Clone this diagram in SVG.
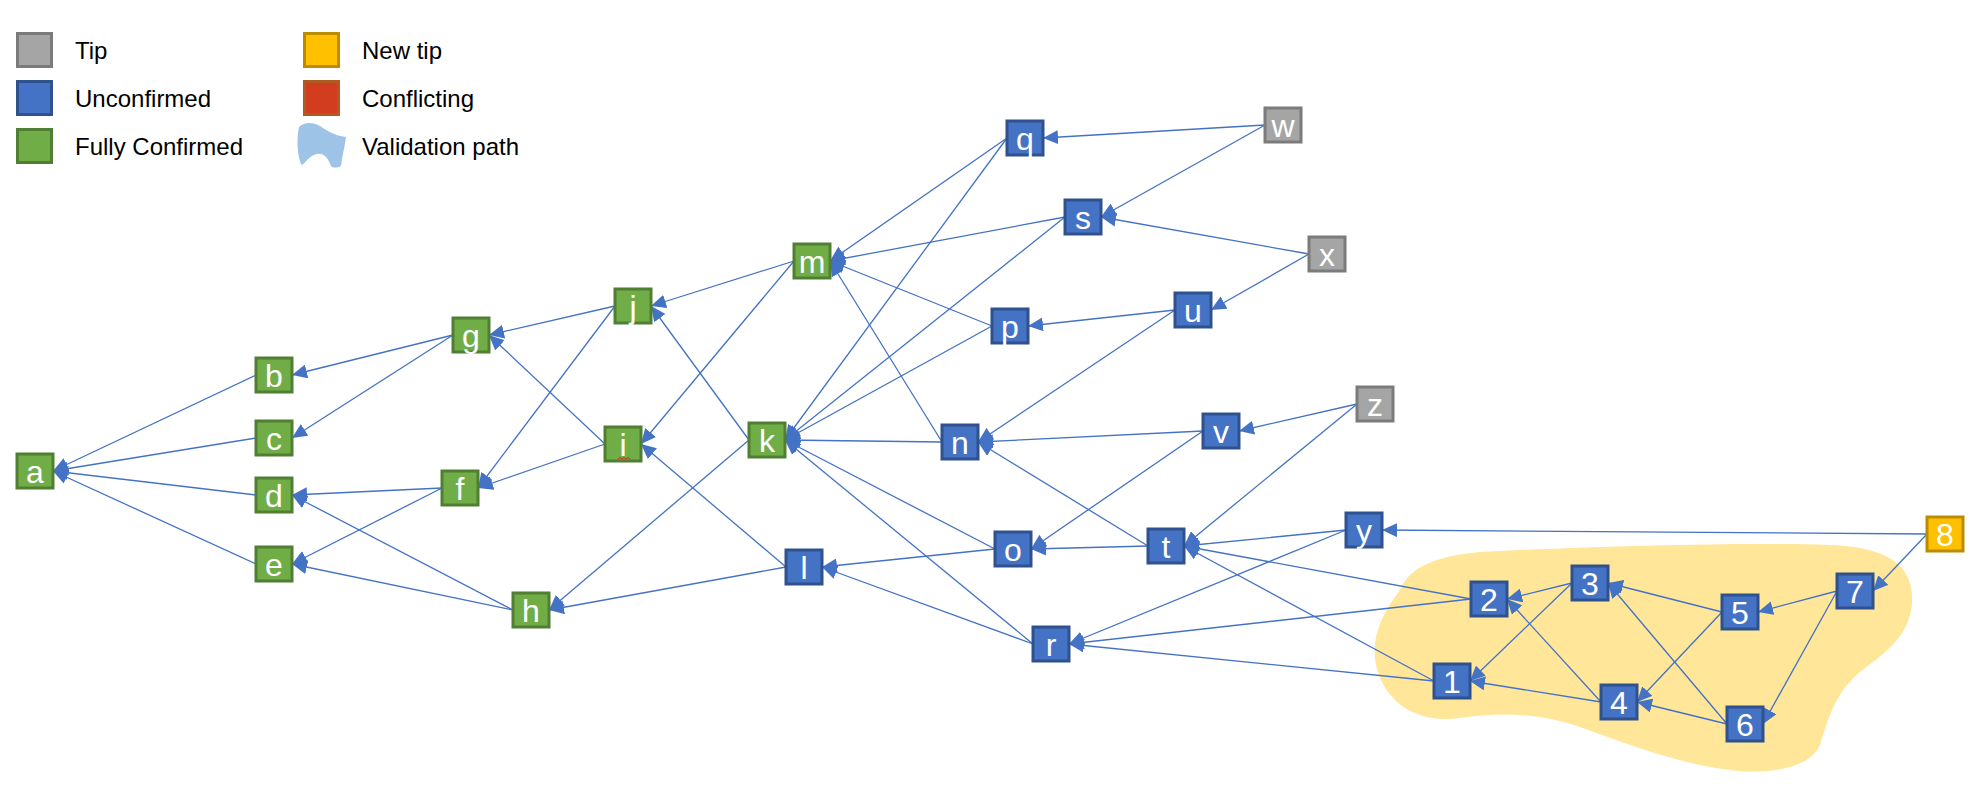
<svg xmlns="http://www.w3.org/2000/svg" width="1981" height="787" viewBox="0 0 1981 787">
<style>
.bx{stroke-width:3}
.tip{fill:#A5A5A5;stroke:#7B7B7B}
.unc{fill:#4472C4;stroke:#2F528F}
.ok{fill:#70AD47;stroke:#507E32}
.new{fill:#FFC000;stroke:#BC8C00}
.bad{fill:#D33D1F;stroke:#AE5A21}
.lbl{font-family:"Liberation Sans",Arial,sans-serif;font-size:32px;fill:#fff;text-anchor:middle}
.leg{font-family:"Liberation Sans",Arial,sans-serif;font-size:24px;fill:#000}
#connectors line{stroke:#4472C4;stroke-width:1.3;marker-end:url(#ah)}
</style>
<defs>
<marker id="ah" viewBox="0 0 15 14" refX="15" refY="7" markerWidth="15" markerHeight="14" orient="auto" markerUnits="userSpaceOnUse">
<path d="M0,0 L15,7 L0,14 z" fill="#4472C4"/>
</marker>
</defs>
<rect width="1981" height="787" fill="#fff"/>

<g id="legend">
<rect class="bx tip" x="17.5" y="33.5" width="34" height="33"/>
<text class="leg" x="75" y="59">Tip</text>
<rect class="bx unc" x="17.5" y="81.5" width="34" height="33"/>
<text class="leg" x="75" y="107">Unconfirmed</text>
<rect class="bx ok" x="17.5" y="129.5" width="34" height="33"/>
<text class="leg" x="75" y="155">Fully Confirmed</text>
<rect class="bx new" x="304.5" y="33.5" width="34" height="33"/>
<text class="leg" x="362" y="59">New tip</text>
<rect class="bx bad" x="304.5" y="81.5" width="34" height="33"/>
<text class="leg" x="362" y="107">Conflicting</text>
<path d="M299,127 C304,122 312,122 318,125 C325,129 334,136 346,137 C345,146 342,156 341,166 C337,168 333,168 331,166 C328,158 324,153 317,154 C310,155 306,162 302,165 C298,160 296,140 299,127 Z" fill="#9DC3E6"/>
<text class="leg" x="362" y="155">Validation path</text>
</g>

<path id="validation-path" d="M1400,590 C1410,565 1440,556 1480,552 C1600,546 1750,542 1830,545 C1880,547 1910,560 1912,595 C1914,630 1890,650 1865,668 C1835,690 1828,720 1820,745 C1810,768 1770,775 1730,770 C1680,764 1630,745 1580,727 C1540,713 1500,712 1460,718 C1420,724 1385,705 1376,665 C1370,635 1385,610 1400,590 Z" fill="#FFE699"/>

<g id="connectors">
<line x1="256" y1="375" x2="53" y2="471"/>
<line x1="256" y1="438" x2="53" y2="471"/>
<line x1="256" y1="495" x2="53" y2="471"/>
<line x1="256" y1="564" x2="53" y2="471"/>
<line x1="453" y1="335" x2="292" y2="375"/>
<line x1="453" y1="335" x2="292" y2="438"/>
<line x1="442" y1="488" x2="292" y2="495"/>
<line x1="442" y1="488" x2="292" y2="564"/>
<line x1="513" y1="610" x2="292" y2="495"/>
<line x1="513" y1="610" x2="292" y2="564"/>
<line x1="615" y1="306" x2="489" y2="335"/>
<line x1="605" y1="444" x2="489" y2="335"/>
<line x1="615" y1="306" x2="478" y2="488"/>
<line x1="605" y1="444" x2="478" y2="488"/>
<line x1="749" y1="440" x2="549" y2="610"/>
<line x1="786" y1="567" x2="549" y2="610"/>
<line x1="794" y1="261" x2="651" y2="306"/>
<line x1="749" y1="440" x2="651" y2="306"/>
<line x1="794" y1="261" x2="641" y2="444"/>
<line x1="786" y1="567" x2="641" y2="444"/>
<line x1="1007" y1="138" x2="830" y2="261"/>
<line x1="1065" y1="217" x2="830" y2="261"/>
<line x1="992" y1="326" x2="830" y2="261"/>
<line x1="942" y1="442" x2="830" y2="261"/>
<line x1="1007" y1="138" x2="785" y2="440"/>
<line x1="1065" y1="217" x2="785" y2="440"/>
<line x1="992" y1="326" x2="785" y2="440"/>
<line x1="942" y1="442" x2="785" y2="440"/>
<line x1="995" y1="549" x2="785" y2="440"/>
<line x1="1033" y1="644" x2="785" y2="440"/>
<line x1="1265" y1="125" x2="1043" y2="138"/>
<line x1="1265" y1="125" x2="1101" y2="217"/>
<line x1="1309" y1="254" x2="1101" y2="217"/>
<line x1="1309" y1="254" x2="1211" y2="310"/>
<line x1="1175" y1="310" x2="1028" y2="326"/>
<line x1="1175" y1="310" x2="978" y2="442"/>
<line x1="1203" y1="431" x2="978" y2="442"/>
<line x1="1357" y1="404" x2="1239" y2="431"/>
<line x1="1357" y1="404" x2="1184" y2="546"/>
<line x1="1148" y1="546" x2="978" y2="442"/>
<line x1="1203" y1="431" x2="1031" y2="549"/>
<line x1="1148" y1="546" x2="1031" y2="549"/>
<line x1="995" y1="549" x2="822" y2="567"/>
<line x1="1033" y1="644" x2="822" y2="567"/>
<line x1="1346" y1="530" x2="1184" y2="546"/>
<line x1="1471" y1="599" x2="1184" y2="546"/>
<line x1="1434" y1="681" x2="1184" y2="546"/>
<line x1="1346" y1="530" x2="1069" y2="644"/>
<line x1="1471" y1="599" x2="1069" y2="644"/>
<line x1="1434" y1="681" x2="1069" y2="644"/>
<line x1="1927" y1="534" x2="1382" y2="530"/>
<line x1="1927" y1="534" x2="1873" y2="591"/>
<line x1="1572" y1="583" x2="1507" y2="599"/>
<line x1="1601" y1="702" x2="1507" y2="599"/>
<line x1="1572" y1="583" x2="1470" y2="681"/>
<line x1="1601" y1="702" x2="1470" y2="681"/>
<line x1="1722" y1="612" x2="1608" y2="583"/>
<line x1="1727" y1="724" x2="1608" y2="583"/>
<line x1="1722" y1="612" x2="1637" y2="702"/>
<line x1="1727" y1="724" x2="1637" y2="702"/>
<line x1="1837" y1="591" x2="1758" y2="612"/>
<line x1="1837" y1="591" x2="1763" y2="724"/>
</g>

<g id="node-a"><rect class="bx ok" x="17" y="454" width="36" height="34"/><text class="lbl" x="35" y="483">a</text></g>
<g id="node-b"><rect class="bx ok" x="256" y="358" width="36" height="34"/><text class="lbl" x="274" y="387">b</text></g>
<g id="node-c"><rect class="bx ok" x="256" y="421" width="36" height="34"/><text class="lbl" x="274" y="450">c</text></g>
<g id="node-d"><rect class="bx ok" x="256" y="478" width="36" height="34"/><text class="lbl" x="274" y="507">d</text></g>
<g id="node-e"><rect class="bx ok" x="256" y="547" width="36" height="34"/><text class="lbl" x="274" y="576">e</text></g>
<g id="node-g"><rect class="bx ok" x="453" y="318" width="36" height="34"/><text class="lbl" x="471" y="347">g</text></g>
<g id="node-f"><rect class="bx ok" x="442" y="471" width="36" height="34"/><text class="lbl" x="460" y="500">f</text></g>
<g id="node-h"><rect class="bx ok" x="513" y="593" width="36" height="34"/><text class="lbl" x="531" y="622">h</text></g>
<g id="node-j"><rect class="bx ok" x="615" y="289" width="36" height="34"/><text class="lbl" x="633" y="318">j</text></g>
<g id="node-i"><rect class="bx ok" x="605" y="427" width="36" height="34"/><text class="lbl" x="623" y="456">i</text><path d="M618,459 l2,-1.5 l2,1.5 l2,-1.5 l2,1.5 l2,-1.5 l2,1.5" fill="none" stroke="#E0201B" stroke-width="1"/></g>
<g id="node-m"><rect class="bx ok" x="794" y="244" width="36" height="34"/><text class="lbl" x="812" y="273">m</text></g>
<g id="node-k"><rect class="bx ok" x="749" y="423" width="36" height="34"/><text class="lbl" x="767" y="452">k</text></g>
<g id="node-q"><rect class="bx unc" x="1007" y="121" width="36" height="34"/><text class="lbl" x="1025" y="150">q</text></g>
<g id="node-s"><rect class="bx unc" x="1065" y="200" width="36" height="34"/><text class="lbl" x="1083" y="229">s</text></g>
<g id="node-p"><rect class="bx unc" x="992" y="309" width="36" height="34"/><text class="lbl" x="1010" y="338">p</text></g>
<g id="node-n"><rect class="bx unc" x="942" y="425" width="36" height="34"/><text class="lbl" x="960" y="454">n</text></g>
<g id="node-l"><rect class="bx unc" x="786" y="550" width="36" height="34"/><text class="lbl" x="804" y="579">l</text></g>
<g id="node-o"><rect class="bx unc" x="995" y="532" width="36" height="34"/><text class="lbl" x="1013" y="561">o</text></g>
<g id="node-r"><rect class="bx unc" x="1033" y="627" width="36" height="34"/><text class="lbl" x="1051" y="656">r</text></g>
<g id="node-u"><rect class="bx unc" x="1175" y="293" width="36" height="34"/><text class="lbl" x="1193" y="322">u</text></g>
<g id="node-v"><rect class="bx unc" x="1203" y="414" width="36" height="34"/><text class="lbl" x="1221" y="443">v</text></g>
<g id="node-t"><rect class="bx unc" x="1148" y="529" width="36" height="34"/><text class="lbl" x="1166" y="558">t</text></g>
<g id="node-y"><rect class="bx unc" x="1346" y="513" width="36" height="34"/><text class="lbl" x="1364" y="542">y</text></g>
<g id="node-w"><rect class="bx tip" x="1265" y="108" width="36" height="34"/><text class="lbl" x="1283" y="137">w</text></g>
<g id="node-x"><rect class="bx tip" x="1309" y="237" width="36" height="34"/><text class="lbl" x="1327" y="266">x</text></g>
<g id="node-z"><rect class="bx tip" x="1357" y="387" width="36" height="34"/><text class="lbl" x="1375" y="416">z</text></g>
<g id="node-8"><rect class="bx new" x="1927" y="517" width="36" height="34"/><text class="lbl" x="1945" y="546">8</text></g>
<g id="node-2"><rect class="bx unc" x="1471" y="582" width="36" height="34"/><text class="lbl" x="1489" y="611">2</text></g>
<g id="node-3"><rect class="bx unc" x="1572" y="566" width="36" height="34"/><text class="lbl" x="1590" y="595">3</text></g>
<g id="node-7"><rect class="bx unc" x="1837" y="574" width="36" height="34"/><text class="lbl" x="1855" y="603">7</text></g>
<g id="node-5"><rect class="bx unc" x="1722" y="595" width="36" height="34"/><text class="lbl" x="1740" y="624">5</text></g>
<g id="node-1"><rect class="bx unc" x="1434" y="664" width="36" height="34"/><text class="lbl" x="1452" y="693">1</text></g>
<g id="node-4"><rect class="bx unc" x="1601" y="685" width="36" height="34"/><text class="lbl" x="1619" y="714">4</text></g>
<g id="node-6"><rect class="bx unc" x="1727" y="707" width="36" height="34"/><text class="lbl" x="1745" y="736">6</text></g>
</svg>
